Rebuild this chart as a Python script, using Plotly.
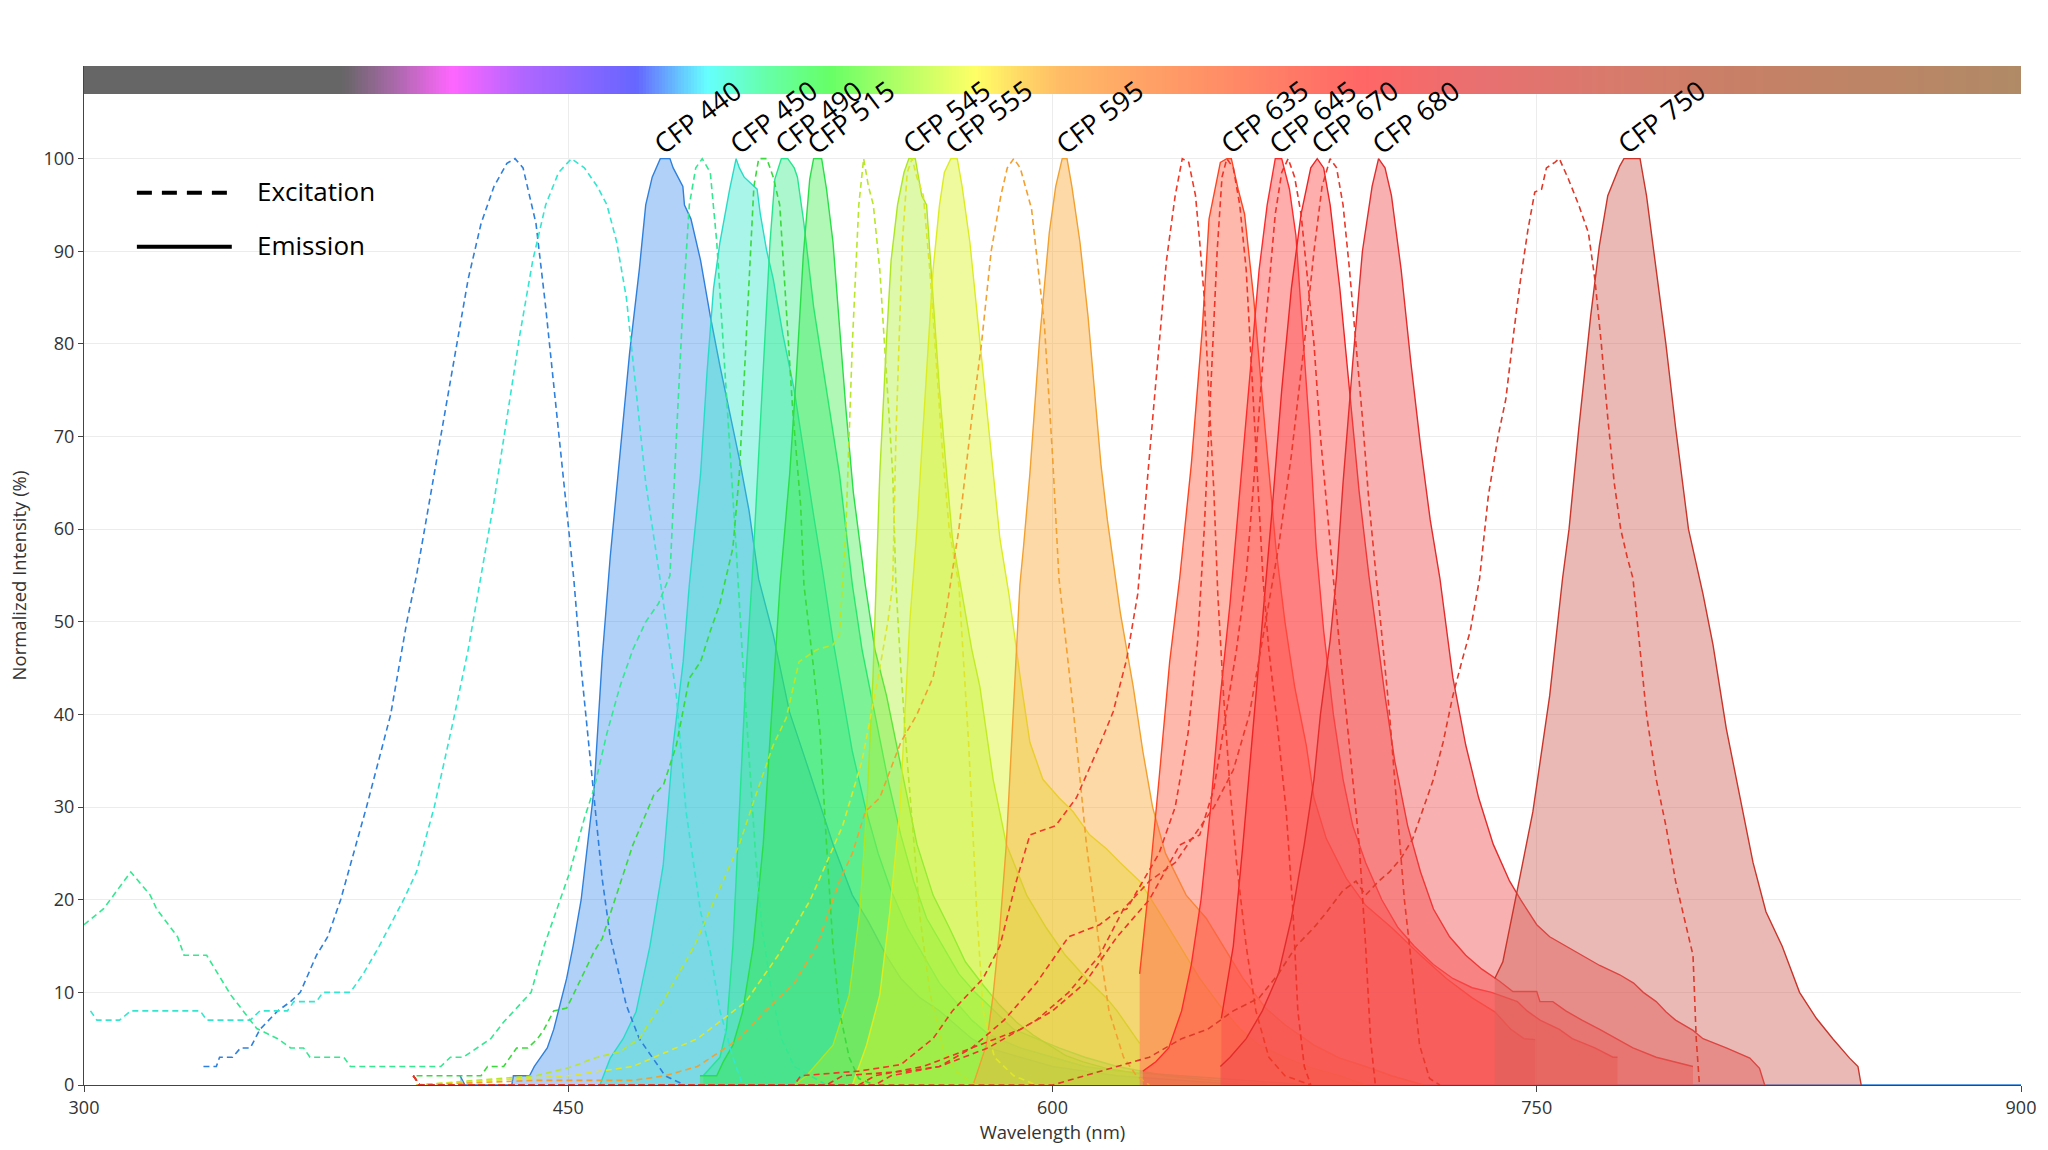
import numpy as np
import plotly.graph_objects as go

DYES = ["CFP 440", "CFP 450", "CFP 490", "CFP 515", "CFP 545", "CFP 555",
        "CFP 595", "CFP 635", "CFP 645", "CFP 670", "CFP 680", "CFP 750"]

LINE_COLORS = ["#2f80dc", "#27dcc6", "#25e68c", "#2ade48", "#ade622", "#dcec22",
               "#f2a030", "#ff4422", "#ff2a2a", "#ee2424", "#e22c2c", "#c8352a"]
FILL_COLORS = ["rgba(60,140,240,0.40)", "rgba(40,230,200,0.40)", "rgba(40,235,130,0.38)",
               "rgba(50,235,60,0.38)", "rgba(170,240,40,0.40)", "rgba(220,245,40,0.45)",
               "rgba(250,170,60,0.45)", "rgba(255,100,70,0.45)", "rgba(255,70,70,0.45)",
               "rgba(255,75,75,0.45)", "rgba(240,80,80,0.45)", "rgba(210,100,90,0.45)"]
EX_COLORS = ["#2f80dc", "#33e6d0", "#33e890", "#3ada3a", "#b8e62a", "#dde62a",
             "#f2a030", "#ee3a28", "#ee3328", "#ee3328", "#e83a2c", "#dd3a2a"]

# ---------- excitation spectra [wavelength nm, normalized %] ----------
EX_440 = [[337,2],[341,2],[342,3],[346,3],[348.5,4],[351.5,4],[354.5,6],[360,8],[364,9],[367,10],
          [372,14],[375.5,16],[379.5,20],[387.5,30],[395,40],[400,50],[403,55],[407,63],[411,71],
          [415,79],[419,87],[423,93],[427,97],[431,99.5],[433.5,100],[436,99],[438,96],[440,93],
          [443,84],[446,74],[449,64],[451.7,54.7],[454,45],[457,34.5],[460.5,22.3],[463,16],
          [468,8.6],[472,5],[476,3],[480,1],[486,0]]
EX_450 = [[302,8],[304,7],[311,7],[314.5,8],[336,8],[338,7],[351.5,7],[354.5,8],[363,8],[365,9],
          [372,9],[374,10],[382.5,10],[386.5,12],[391,14.7],[399,20],[403,23],[408.5,30],
          [414.5,39.5],[419,47],[423,55],[427,63],[431,72],[435,81],[439,89],[443,95],[447,98.5],
          [451,100],[455,99],[459,97],[462,95],[465,91],[468,85],[471,75],[474,65],[478.4,54.7],
          [483.5,42],[486.5,29.5],[491,18.7],[494,14.4],[497,8],[501,3],[504,0]]
EX_490 = [[300,17.3],[306,19],[314.5,23],[320.5,20.5],[322.5,19],[329,16],[331,14],[338,14],
          [345.5,9.7],[353.5,6.1],[360,5],[364,4],[368,4],[370,3],[380.5,3],[382.5,2],[410.5,2],
          [413.5,3],[417.5,3],[423,4.3],[426,5],[430,6.8],[434,8.3],[438.5,10],[442.5,15],
          [446.5,19],[450.5,23],[455,28.8],[458,32],[462,38],[466,43],[470,47],[474,50],[478,52],
          [481.5,55],[483.5,70],[485.5,84],[487.5,95],[489.5,99],[491.5,100],[494,98.5],[496,91],
          [498,80],[500,70],[502,58],[504,46],[506,35],[508,25],[510,17],[513,10],[516,5],[520,2],
          [525,1],[530,0]]
EX_515 = [[403,1],[423,1],[425,2],[430,2],[434,4],[437.5,4],[440.5,5],[442.5,6],[445.5,8],
          [449.5,8.3],[451.5,9.7],[455,12.2],[458,14.4],[460.5,15.8],[465,20.5],[470,25.9],
          [476.5,31.3],[479.5,32.4],[483.5,36.7],[487.5,43.9],[491,45.7],[494,49],[497,52],
          [499,55],[501,58],[503,66],[505,80],[506.5,91],[507.5,97],[509,100],[511.5,100],
          [513.5,98],[515.5,95],[517.5,84],[519.5,73],[522,62.5],[523,54],[526,45],[528,38],
          [530,26],[532,15],[534,8],[537,3],[540,0.7],[545,0]]
EX_545 = [[403,0],[440,1],[451.5,2],[458,2.9],[466,3.6],[472,5],[480.5,9.7],[489,15],[496,20.5],
          [503,26],[508.5,31.7],[513.5,36.7],[517.5,39.6],[521.5,45.7],[527,47],[532,47.5],
          [534,48.6],[536,60],[538,80],[540,95],[541.5,100],[543,97],[544.5,95],[546.5,88],
          [548.5,77],[550.5,66],[551.5,54],[553,45],[555,35],[557,26],[559,18],[562,10],[566,4],
          [570,1.5],[576,0]]
EX_555 = [[403,0],[450,1],[470,2],[490,5],[505,9],[515,14],[525,20],[535,28],[541,35],[546,44],
          [549,50],[550.5,54],[551.5,70],[552.5,80],[553.5,91],[555,98.5],[556.5,100],[558,98],
          [560,96],[562,88],[564,78],[566,68],[568,60],[571,54],[574,37],[576.5,19],[578.5,8],
          [582,3],[588,1],[595,0]]
EX_595 = [[403,0],[440,0.5],[470,0.5],[480,1],[490,2],[503,5],[511,8],[520,11],[527,15],[534,22],
          [538,25],[542,29.5],[546.5,31],[553,37],[558,40],[563,44],[567,51],[571,60],[575,72],
          [578,80],[581,90],[584,96],[586,99],[588,100],[590,99],[593.5,94.6],[597.5,82],[600,68],
          [602,54.7],[606.5,40.3],[610.5,26],[614.5,15],[617.5,8],[622,3],[626,1],[630,0]]
EX_635 = [[402,1],[404,0],[520,0],[522,1],[540,1.5],[553,2.2],[563,5],[569,8],[578.5,11.5],
          [583.7,15],[588.8,22],[593,27],[601,28],[607.4,31],[614.6,36.7],[618.8,40.3],[623,46],
          [626.4,53],[629.8,67],[632.6,78],[635.3,89],[638,96],[640.2,100],[642.2,99.6],[644.3,96],
          [645.7,90.6],[647,85],[648.5,74],[650,64],[651.2,53],[653,42],[655,32],[657,24],[660,15],
          [663,8],[667,3],[672,1],[680,0]]
EX_645 = [[402,1],[404,0],[530,0],[535,1],[555,1.5],[565,2],[575,4],[585,7],[595,11],[605,16],
          [614.6,17.3],[619.8,18.7],[623,19],[628,22],[633,25],[638,30],[642,38],[645,48],[647,60],
          [649,75],[651,90],[652.5,98],[654,100],[656,99],[658,95],[660,88],[662,75],[663.5,65],
          [665.2,54.7],[667,47],[669.3,40],[672.4,29.5],[674.5,18.7],[676,8],[678,2],[680,0]]
EX_670 = [[402,1],[404,0],[540,0],[545,1],[560,2],[575,4],[590,6],[600,8],[610,11],[620,16],
          [630,20],[639.4,25.9],[645.6,27],[650,32],[653.8,40.3],[657,47],[660,55],[663,68],
          [666,82],[669,94],[671,98.5],[673,100],[675,98],[677,94],[679,87],[681,80],[683,70],
          [685,62],[687,54.7],[689,47],[691,40],[693,33],[695,26],[697,15],[698.5,5],[700,0]]
EX_680 = [[402,1],[404,0],[545,0],[550,1],[565,2],[580,4],[595,7],[605,10],[614.6,14],[622,19],
          [630,22],[638,24],[644,27],[650,30],[656,34],[661,40],[666,50],[670,58],[674,68],
          [678,80],[681,90],[683.5,97],[686,100],[688,99],[690,95],[692,88],[694,80],[696,72],
          [698,63],[700.3,54.7],[702,48],[704.4,40],[706,33],[707.5,26],[709,20],[710.6,15],
          [712,10],[713.7,4.3],[716.8,0.7],[720,0]]
EX_750 = [[402,1],[404,0],[600,0],[610,1],[620,2],[630,3],[640,5],[648,6],[656,8],[664,9.4],
          [670,12],[675.5,15],[681,17],[685,18.7],[690,21],[694,22],[697,20.5],[701,22],
          [704.4,23],[708,24.5],[711.6,26.6],[715,30],[718,33],[721,37],[724,42],[727,46],
          [729.4,49],[732.3,54.7],[735,63.6],[738,70],[740.4,74],[743,81.6],[745,87],[747.3,92.4],
          [749.4,96.4],[751.5,96.7],[753,99],[755.6,99.6],[757,100],[759.8,97.8],[763,95],
          [766,92],[768,87],[770,80],[772,72],[774,65],[776,60],[778,57],[779.8,54.7],[782,47],
          [784,40],[787,33],[790,28],[793,22],[795.3,18.7],[798.4,14],[799.4,5],[800.4,0]]

# ---------- emission spectra [wavelength nm, normalized %] ----------
EM_440 = [[416.5,1],[418,0],[432.5,0],[433,1],[438,1],[439.5,2],[441.5,3],[443.5,4],[445.5,6],
          [447.5,8.6],[449.5,11.5],[451.5,15],[454,20],[456,26],[458,32],[460.5,46],[463,57],
          [466,68],[469,79],[472,88],[474,95],[476,98],[478.5,100],[481.5,100],[482.5,99],
          [485.5,97],[486,95],[488,93.5],[491,89],[492,87],[494,83],[497,77.6],[500,72.6],
          [503,67.6],[506,62],[509,54.6],[513.5,48.6],[518.5,40.3],[525,33.5],[532,26],[538,20.5],
          [543,17.6],[548.5,14],[553,11.5],[559,9.4],[565,8],[570,6.5],[575,5],[580,4],[590,3],
          [600,2],[610,1.5],[620,1],[640,0.5],[660,0],[900,0]]
EM_450 = [[459.8,0],[463,2.9],[467,5],[471,7.9],[475.3,15],[479.4,23.7],[482.5,36.7],[485.6,45.7],
          [487.5,54],[491,66],[493,77],[495,86],[497,91],[500,96.7],[502,100],[503,99],[504.5,98],
          [506.5,97.4],[508.5,96.7],[509.5,94],[511.5,90],[513.5,87],[516.5,81],[520,75],[523,68],
          [526,61.5],[529,55],[532,48],[535,42],[538,36],[542,30],[546,25],[550,21],[555,17],
          [560,14],[565,11],[570,9],[575,7],[580,5.5],[590,4],[600,3],[610,2],[620,1.5],[640,1],
          [660,0.5],[680,0]]
EM_490 = [[491.8,1],[497,3],[499,6],[501,15],[503,29.5],[505,44],[507,55],[509,68],[511,82],
          [512.5,91],[514,97.8],[516,100],[518,100],[520,99],[521,98],[523,93],[526,84],[530,75],
          [534,66],[538,54],[541,47],[545,40],[549,33],[553,27],[557,22],[561,18],[566,15],
          [571,12],[576,10],[582,8],[588,6],[595,5],[602,4],[610,3],[620,2],[635,1],[650,0.5],
          [670,0]]
EM_515 = [[490.8,1],[496,1],[498,2.5],[501,4.3],[504,7.9],[507.3,15],[510.4,26],[512.4,36.7],
          [514.5,47.5],[515.6,54],[518.6,66],[520.7,77],[522.8,89.5],[524.8,97.8],[526,100],
          [528.5,100],[530,96.7],[532,91],[534,82],[536,73],[538.3,64],[542,54],[545,47],
          [548.6,42],[552.7,35],[558,26],[563,20.5],[568,17],[573,13.3],[578.5,10.8],[583.7,8.6],
          [588.8,6.8],[594,5.4],[599,4.3],[604,3.2],[609.5,2.5],[616.7,1.8],[622,1.5],[627,1.2]]
EM_545 = [[520,0],[523.8,1],[532,4.3],[537,9.7],[540.3,18.7],[542.4,29.5],[544.4,44],[545.5,54.7],
          [546.5,66],[548.6,80.5],[550,89],[552,95],[554,98.5],[555.5,100],[557.5,100],[558.5,98],
          [559.5,96],[561,95],[562,90],[563,84],[565,75],[567.2,66],[569,59],[571.5,54],[575,47],
          [577.5,43],[581.6,33],[585.7,26],[592,20.5],[598,17],[604,14],[610.5,11.5],[616.7,9.4],
          [620,8],[624,6],[627,4.5]]
EM_555 = [[538,0],[542.4,4.3],[546.5,9.7],[549.6,18.7],[552.7,29.5],[554.3,40],[555.8,50],[558,60],
          [559,66],[561,77],[563,88],[565,95],[566.5,98.5],[568.5,100],[570.5,100],[572,97],
          [574.4,91],[577.5,80.5],[580.6,70],[583.7,59],[586.5,53],[590,44],[593,37],[597,33],
          [602,31],[606.4,29.5],[611.5,27],[616.7,25.5],[621,24],[627,22],[633,18.7],[639.4,15],
          [645.6,11.5],[651.8,8.6],[658,6.1],[664,4.3],[672.4,2.9],[680.7,1.8],[689,1],[697,0]]
EM_595 = [[575.4,0],[579.5,4.3],[581.6,9.7],[583.7,17],[585.7,26],[587.8,40],[589.9,54],[591,58],
          [593,66],[596,80.5],[599,92],[601,97],[603,100],[604.5,100],[606,97],[608.5,91],[611,83],
          [613,75],[615,67],[617,61],[619,56],[621,51],[623,47],[625,43],[628,36],[631,30],
          [635,25],[641.4,20.5],[647.6,18],[653.8,14.4],[659,11.5],[666,8.3],[672,6.5],[681,4.3],
          [689,2.9],[697,2],[705,1],[715,0]]
EM_635 = [[627,12],[630,22],[633,33],[636.3,45.7],[639.4,54.7],[643,67],[646.4,81.6],[648.5,93.5],
          [652,99.6],[654,100],[655.4,100],[657.5,96.7],[659.5,94],[662.3,85],[665.8,71],
          [669.2,58],[672,50],[675,43],[678.6,36.7],[681,31],[684.8,26.6],[691,22.3],[697,19.4],
          [705,17],[714,14],[722,11.5],[730,9.4],[737,7.9],[742,6],[746,5],[749.5,4.9]]
EM_645 = [[628,1.5],[632,2.5],[636,4],[640,8],[643,13],[646,20],[649,30],[652,42],[655,52],[658,64],
          [661,76],[664,88],[666.5,95],[669,100],[671,100],[673.4,96.7],[675.4,91.7],[677.5,81.6],
          [679.6,70.8],[681.7,58],[684,49],[687,40],[690,33],[693,28],[697,24],[702,20],[707,17],
          [712,15],[718,13],[724,11.5],[730,10.5],[736,10],[740,9.5],[744,9],[747,8],[751,7],
          [757,6],[761,5],[768,4],[773.6,3],[775,3]]
EM_670 = [[652.3,7.2],[656,15],[659,26],[662,38],[665,50],[668,62],[671,75],[674,86],[677,94],
          [680,99],[682,100],[684,99],[686,95],[689,86],[692,75],[695,64],[698,55],[700.3,49],
          [703,42],[706,35],[710,28],[714,23],[718,19],[723,16],[728,14],[733,12.5],[738.5,11.2],
          [742.6,10.1],[750,10.1],[751,9],[755,9],[759,8],[764,7],[769.5,6],[774.6,5],[779.8,4],
          [787,3],[798.4,2]]
EM_680 = [[652,2],[655,3],[660,5],[665,8],[670,12],[674,18],[678,26],[681,33],[683,40],[686,48],
          [688,55],[690,65],[693,78],[696,90],[699,97],[701,100],[703,99],[705,96],[708,88],
          [711,78],[714,69],[717,61],[720,54.7],[724,44],[728,36.7],[732,31],[736.5,26],
          [741.6,22],[745,20],[750,17.3],[754,16],[759,15],[764,14],[769.5,12.9],[775.7,11.9],
          [780,11],[783,10],[787,9],[790,7.9],[793,7],[798.4,5.9],[801.5,5],[808.7,4],[816,2.9],
          [819,1.8],[820.6,0]]
EM_750 = [[737,11.5],[739.5,13.3],[744.7,22.3],[748.8,29.5],[754,42],[758,54.7],[760,60],
          [763,70.8],[766.7,83],[769.4,90.6],[772,96],[775.7,99.2],[777,100],[782,100],[784,96],
          [786.7,89],[790,80],[793,71],[797,60],[801.5,53],[804.6,47.5],[808.7,38.5],[812.8,31.3],
          [817,24],[821,18.7],[826,15],[831.4,10],[836.6,7.2],[841.7,5],[846.9,2.9],[849.5,2],
          [850.5,0]]

EXCITATION = [EX_440, EX_450, EX_490, EX_515, EX_545, EX_555, EX_595, EX_635, EX_645, EX_670, EX_680, EX_750]
EMISSION = [EM_440, EM_450, EM_490, EM_515, EM_545, EM_555, EM_595, EM_635, EM_645, EM_670, EM_680, EM_750]

# visible-spectrum band across the top
SPECTRUM_NM = [300, 380, 396, 414, 436, 471, 493, 511, 531, 553, 576, 592, 603, 631, 696, 733, 773, 814, 900]
SPECTRUM_COL = ["#666666", "#666666", "#a869a8", "#ff66ff", "#b066ff", "#6666ff", "#66ffff", "#66ffaa",
                "#66ff66", "#b3ff66", "#ffff66", "#ffd466", "#ffbb66", "#ffa066", "#ff6666", "#e87070",
                "#d87a6c", "#c78066", "#b08a66"]

X_TICKS = [300, 450, 600, 750, 900]
Y_TICKS = [0, 10, 20, 30, 40, 50, 60, 70, 80, 90, 100]

FONT = "Open Sans, Noto Sans, sans-serif"

fig = go.Figure()

# spectrum band
edges = np.arange(300, 901)
scale = [[(w - 300) / 600.0, c] for w, c in zip(SPECTRUM_NM, SPECTRUM_COL)]
fig.add_trace(go.Heatmap(x=edges, y=[107, 110], z=[edges[:-1] + 0.5], zmin=300, zmax=900,
                         colorscale=scale, showscale=False, hoverinfo="skip"))

# emission spectra (filled)
for name, data, lc, fc in zip(DYES, EMISSION, LINE_COLORS, FILL_COLORS):
    arr = np.array(data, dtype=float)
    fig.add_trace(go.Scatter(x=arr[:, 0], y=arr[:, 1], mode="lines", name=name + " Em",
                             line=dict(color=lc, width=1.4), fill="tozeroy", fillcolor=fc,
                             showlegend=False))

# excitation spectra (dashed)
for name, data, c in zip(DYES, EXCITATION, EX_COLORS):
    arr = np.array(data, dtype=float)
    fig.add_trace(go.Scatter(x=arr[:, 0], y=arr[:, 1], mode="lines", name=name + " Ex",
                             line=dict(color=c, width=1.6, dash="6px,4px"), showlegend=False))

# dye labels at emission maxima
for name, data in zip(DYES, EMISSION):
    arr = np.array(data, dtype=float)
    pk = arr[np.argmax(arr[:, 1]), 0]
    fig.add_annotation(x=pk, y=100, text=name, textangle=-37, showarrow=False,
                       xanchor="left", yanchor="bottom", xshift=-17, yshift=-6,
                       font=dict(family=FONT, size=27, color="black"))

# legend (drawn)
fig.add_shape(type="line", xref="paper", yref="paper", x0=0.0273, x1=0.0763, y0=0.8756, y1=0.8756,
              line=dict(color="black", width=4, dash="15px,10px"))
fig.add_shape(type="line", xref="paper", yref="paper", x0=0.0273, x1=0.0763, y0=0.8227, y1=0.8227,
              line=dict(color="black", width=4))
fig.add_annotation(xref="paper", yref="paper", x=0.0881, y=0.8776, text="Excitation", showarrow=False,
                   xanchor="left", yanchor="middle", font=dict(family=FONT, size=26, color="black"))
fig.add_annotation(xref="paper", yref="paper", x=0.0881, y=0.8247, text="Emission", showarrow=False,
                   xanchor="left", yanchor="middle", font=dict(family=FONT, size=26, color="black"))

fig.update_layout(
    width=2048, height=1150,
    margin=dict(l=84, r=24, t=66, b=63),
    paper_bgcolor="white", plot_bgcolor="white",
    font=dict(family=FONT, size=18, color="#333"),
    showlegend=False,
    xaxis=dict(range=[300, 900], tickvals=X_TICKS, showgrid=True, gridcolor="#ececec",
               showline=True, linecolor="#444", linewidth=1, ticks="outside", ticklen=6,
               tickcolor="#444", zeroline=False, tickfont=dict(size=18, color="#333"),
               title=dict(text="Wavelength (nm)", font=dict(size=18.5, color="#333"), standoff=6)),
    yaxis=dict(range=[0, 110], tickvals=Y_TICKS, showgrid=True, gridcolor="#ececec",
               showline=True, linecolor="#444", linewidth=1, ticks="outside", ticklen=5,
               tickcolor="#444", zeroline=False, tickfont=dict(size=18, color="#333"),
               title=dict(text="Normalized Intensity (%)", font=dict(size=18.5, color="#333"), standoff=12)),
)

fig.write_html("out.html")
